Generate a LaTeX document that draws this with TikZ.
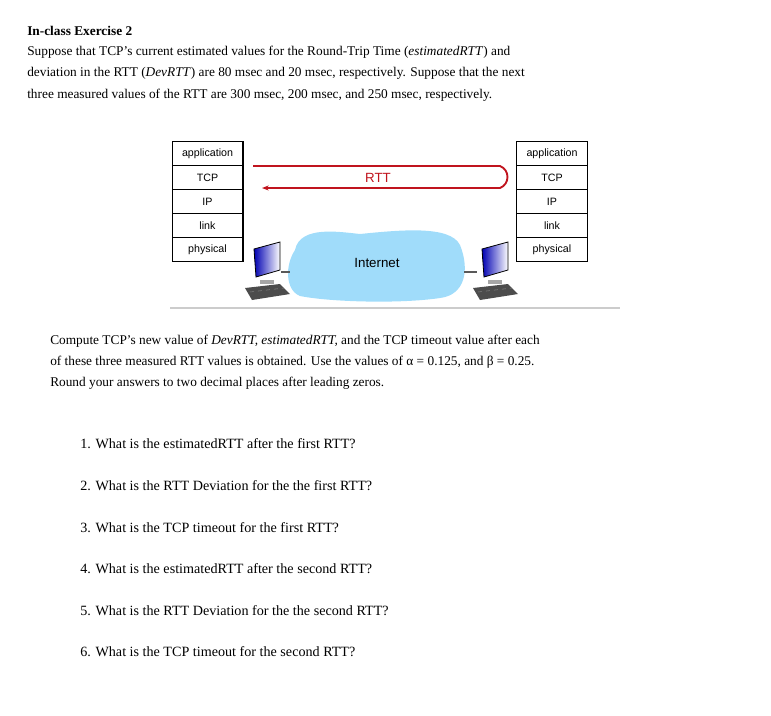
\documentclass[tikz,border=0pt]{standalone}
\usepackage{fontspec}
\setmainfont{Liberation Serif}
\newfontfamily\sansf{Liberation Sans}
\usetikzlibrary{arrows.meta}
\definecolor{rttred}{RGB}{192,20,30}
\definecolor{cloudblue}{RGB}{160,220,250}
\begin{document}
\begin{tikzpicture}[x=1pt,y=-1pt,
  txt/.style={anchor=west,inner sep=0pt,font=\fontsize{10}{12}\selectfont},
  qtxt/.style={anchor=west,inner sep=0pt,font=\fontsize{10.6}{12}\selectfont},
  lay/.style={draw,line width=1pt,minimum width=53pt,minimum height=18pt,inner sep=0pt,font=\sansf\fontsize{8}{9}\selectfont},
  conn/.style={gray!70!black,line width=0.8pt}]
\useasboundingbox (0,0) rectangle (578.25,536.25);
\begin{scope}[x=0.75pt,y=-0.75pt]
\node[txt,font=\bfseries\fontsize{10}{12}\selectfont] (t0) at (27,31) {In-class Exercise 2};
\node[txt] (t1) at (27,52) {Suppose that TCP's current estimated values for the Round-Trip Time (\textit{estimatedRTT}) and};
\node[txt] (t2) at (27,73) {deviation in the RTT (\textit{DevRTT}) are 80 msec and 20 msec, respectively. Suppose that the next};
\node[txt] (t3) at (27,95) {three measured values of the RTT are 300 msec, 200 msec, and 250 msec, respectively.};
% stacks
\foreach \s/\x in {L/207.5,R/552}{
 \foreach \n/\lab [count=\i from 0] in {a/application,t/TCP,i/IP,l/link,p/physical}{
  \node[lay] (\s\n) at (\x,{153.5+\i*24}) {\lab};
 }}
% cloud
\fill[cloudblue] (295,250) .. controls (300,225) and (340,232) .. (360,234) .. controls (400,230) and (450,225) .. (460,245) .. controls (470,270) and (465,295) .. (440,298) .. controls (400,304) and (330,302) .. (300,296) .. controls (285,290) and (285,265) .. (295,250) -- cycle;
\node[font=\sansf\fontsize{10}{11}\selectfont] (inet) at (377,263) {Internet};
% computers
\foreach \c/\x in {pcL/250,pcR/478}{
 \coordinate (\c) at (\x,240);
 \shade[left color=blue!70!black,right color=white,draw=black,line width=0.6pt] (\x+4,249) -- (\x+30,242) -- (\x+30,270) -- (\x+6,277) -- cycle;
 \fill[gray!70] (\x+10,280) -- (\x+24,280) -- (\x+24,284) -- (\x+10,284) -- cycle;
 \fill[gray!60!black] (\x-5,288) -- (\x+30,284) -- (\x+40,294) -- (\x+2,300) -- cycle;
 \draw[black!50,line width=0.4pt,dashed] (\x,292) -- (\x+34,288);
}
\coordinate (cl) at (290,272);
\coordinate (cr) at (464,272);
\draw[conn] (281,272) -- (cl);
\draw[conn] (cr) -- (477,272);
% RTT
\coordinate (r1) at (253,166);
\coordinate (r2) at (262,188);
\draw[rttred,line width=1.4pt,-{Stealth[length=5pt]}] (r1) -- (500,166) .. controls (510,170) and (510,184) .. (500,188) -- (r2);
\node[rttred,font=\sansf\fontsize{10}{11}\selectfont] (rtt) at (378,178) {RTT};
\draw[gray!40,line width=0.8pt] (170,308) -- (620,308);
\node[txt] (c1) at (50,341) {Compute TCP's new value of \textit{DevRTT, estimatedRTT,} and the TCP timeout value after each};
\node[txt] (c2) at (50,362) {of these three measured RTT values is obtained. Use the values of α = 0.125, and β = 0.25.};
\node[txt] (c3) at (50,383) {Round your answers to two decimal places after leading zeros.};
\foreach \q/\y/\tx in {1/444/{What is the estimatedRTT after the first RTT?},
  2/486/{What is the RTT Deviation for the the first RTT?},
  3/528/{What is the TCP timeout for the first RTT?},
  4/569/{What is the estimatedRTT after the second RTT?},
  5/611/{What is the RTT Deviation for the the second RTT?},
  6/652/{What is the TCP timeout for the second RTT?}}{
 \node[qtxt] (q\q) at (80,\y) {\q. \tx};
}
\end{scope}
\end{tikzpicture}
\end{document}
